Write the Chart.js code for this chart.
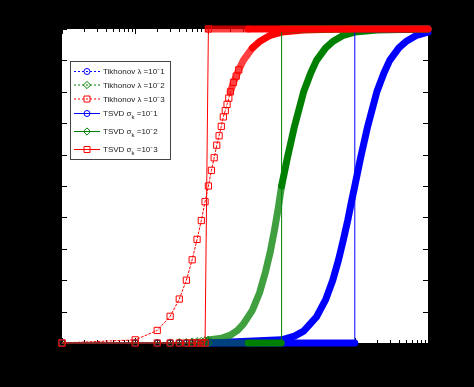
<!DOCTYPE html>
<html>
<head>
<meta charset="utf-8">
<script src="https://cdn.jsdelivr.net/npm/chart.js@4.4.0/dist/chart.umd.min.js"></script>
<style>
  html, body { margin: 0; padding: 0; background: #000; }
  #wrap { width: 474px; height: 387px; }
</style>
</head>
<body>
<div id="wrap"><canvas id="c" width="474" height="387"></canvas></div>
<script>
// 横軸 σ と各フィルタ係数
const tikh1Sigma = [1e-5, 1e-4, 2e-4, 3e-4, 4e-4, 5e-4, 6e-4, 7e-4, 8e-4, 9e-4, 1e-3,
  1e-2, 1.5e-2, 2e-2, 3e-2, 4e-2, 5e-2, 6e-2, 7e-2, 8e-2, 9e-2,
  0.1, 0.12, 0.15, 0.2, 0.25, 0.3, 0.4, 0.5, 0.7, 1];
const tikh1Vals = [0, 0, 0, 0, 0, 0, 0, 0, 0, 0, 0,
  0.01, 0.022, 0.038, 0.083, 0.138, 0.2, 0.265, 0.33, 0.39, 0.45,
  0.5, 0.59, 0.69, 0.8, 0.86, 0.9, 0.94, 0.96, 0.98, 0.99];

const tikh2Sigma = [1e-5, 1e-4, 2e-4, 3e-4, 4e-4, 5e-4, 6e-4, 7e-4, 8e-4, 9e-4, 1e-3,
  1.5e-3, 2e-3, 2.5e-3, 3e-3, 4e-3, 5e-3, 6e-3, 7e-3, 8e-3, 9e-3,
  1e-2, 1.2e-2, 1.5e-2, 2e-2, 2.5e-2, 3e-2, 4e-2, 5e-2, 7e-2, 0.1, 0.2, 1];
const tikh2Vals = [0, 0, 0, 0.001, 0.002, 0.002, 0.004, 0.005, 0.006, 0.008, 0.01,
  0.015, 0.025, 0.04, 0.06, 0.105, 0.16, 0.225, 0.29, 0.36, 0.43,
  0.5, 0.59, 0.69, 0.8, 0.86, 0.9, 0.94, 0.96, 0.98, 0.99, 0.997, 1];

const tikh3Sigma = [1e-5, 1e-4, 2e-4, 3e-4, 4e-4, 5e-4, 6e-4, 7e-4, 8e-4, 9e-4, 1e-3,
  1.1e-3, 1.2e-3, 1.3e-3, 1.4e-3, 1.5e-3, 1.6e-3, 1.7e-3, 1.8e-3, 1.9e-3, 2e-3,
  2.2e-3, 2.4e-3, 2.6e-3, 3e-3, 4e-3, 5e-3, 7e-3,
  1e-2, 2e-2, 5e-2, 0.1, 1];
const tikh3Vals = [0, 0.01, 0.04, 0.085, 0.14, 0.2, 0.265, 0.33, 0.39, 0.45, 0.5,
  0.55, 0.59, 0.63, 0.66, 0.69, 0.72, 0.74, 0.76, 0.78, 0.8,
  0.83, 0.85, 0.87, 0.9, 0.94, 0.96, 0.98,
  0.99, 0.997, 0.999, 1, 1];

const tsvd1Sigma = [1e-5, 1e-4, 2e-4, 3e-4, 4e-4, 5e-4, 6e-4, 7e-4, 8e-4, 9e-4, 1e-3, 0.0999, 0.1, 1];
const tsvd1Vals = [0, 0, 0, 0, 0, 0, 0, 0, 0, 0, 0, 0, 1, 1];

const tsvd2Sigma = [1e-5, 1e-4, 2e-4, 3e-4, 4e-4, 5e-4, 6e-4, 7e-4, 8e-4, 9e-4, 1e-3, 3.5e-3, 0.0099, 0.01, 1];
const tsvd2Vals = [0, 0, 0, 0, 0, 0, 0, 0, 0, 0, 0, 0, 0, 1, 1];

const tsvd3Sigma = [1e-5, 1e-4, 2e-4, 3e-4, 4e-4, 5e-4, 6e-4, 7e-4, 8e-4, 9e-4, 1e-3, 3.5e-3, 1];
const tsvd3Vals = [0, 0, 0, 0, 0, 0, 0, 0, 0, 0, 1, 1, 1];

const xDecades = [1e-5, 1e-4, 1e-3, 1e-2, 1e-1, 1];
const yTicks = [0, 0.1, 0.2, 0.3, 0.4, 0.5, 0.6, 0.7, 0.8, 0.9, 1];
const legendNames = ['Tikhonov', 'Tikhonov', 'Tikhonov', 'TSVD', 'TSVD', 'TSVD'];
const legendExps = ['10⁻1', '10⁻2', '10⁻3', '10⁻1', '10⁻2', '10⁻3'];

const BLUE = '#0000ff', GREEN = '#008000', RED = '#ff0000';

// データセット生成（マーカーは疎な部分だけ、密な部分は太線で表現）
const makeSet = (sig, vals, o) => {
  const isBand = c => sig[c.p0DataIndex] >= o.bandFrom * 0.999 && Math.abs(c.p1.x - c.p0.x) > 1.5;
  return {
    data: sig.map((s, i) => ({ x: s, y: vals[i] })),
    borderColor: o.color,
    borderWidth: 1,
    borderDash: o.dash || [],
    borderCapStyle: 'round',
    borderJoinStyle: 'round',
    pointStyle: o.marker,
    pointRadius: c => sig[c.dataIndex] <= o.markTo ? o.r : 0,
    pointHoverRadius: 0,
    pointBorderWidth: 1,
    pointBorderColor: o.color,
    pointBackgroundColor: 'rgba(0,0,0,0)',
    tension: 0,
    clip: false,
    order: o.order,
    segment: {
      borderWidth: c => isBand(c) ? 7 : 1,
      borderDash: c => isBand(c) ? [] : (o.dash || []),
      borderColor: c => (isBand(c) && sig[c.p0DataIndex] < (o.softTo || 0)) ? o.soft : o.color
    }
  };
};

const datasets = [
  makeSet(tikh1Sigma, tikh1Vals, { color: BLUE, dash: [2, 2], marker: 'circle', r: 3.2, markTo: 1.05e-3, bandFrom: 1e-3, order: 6 }),
  makeSet(tikh2Sigma, tikh2Vals, { color: GREEN, dash: [2, 2], marker: 'rectRot', r: 3.8, markTo: 1.05e-3, bandFrom: 1e-3, softTo: 1e-2, soft: 'rgba(0,128,0,0.75)', order: 5 }),
  makeSet(tikh3Sigma, tikh3Vals, { color: RED, dash: [2, 2], marker: 'rect', r: 4.4, markTo: 2.65e-3, bandFrom: 2e-3, softTo: 4e-3, soft: 'rgba(255,0,0,0.75)', order: 4 }),
  makeSet(tsvd1Sigma, tsvd1Vals, { color: BLUE, marker: 'circle', r: 3.2, markTo: 1.05e-3, bandFrom: 1e-3, order: 3 }),
  makeSet(tsvd2Sigma, tsvd2Vals, { color: GREEN, marker: 'rectRot', r: 3.8, markTo: 1.05e-3, bandFrom: 1e-3, softTo: 3.5e-3, soft: 'rgba(0,128,0,0.5)', order: 2 }),
  makeSet(tsvd3Sigma, tsvd3Vals, { color: RED, marker: 'rect', r: 4.4, markTo: 1.05e-3, bandFrom: 1e-3, softTo: 3.5e-3, soft: 'rgba(255,0,0,0.75)', order: 1 })
];

// 背景（黒）とプロット領域（白）
const bgPlugin = {
  id: 'bg',
  beforeDraw(chart) {
    const { ctx, chartArea: a } = chart;
    ctx.save();
    ctx.fillStyle = '#000';
    ctx.fillRect(0, 0, chart.width, chart.height);
    ctx.fillStyle = '#fff';
    ctx.fillRect(a.left, a.top, a.right - a.left, a.bottom - a.top);
    ctx.restore();
  }
};

// 内向きの目盛り（上下左右）
const tickPlugin = {
  id: 'inTicks',
  beforeDatasetsDraw(chart) {
    const { ctx, chartArea: a, scales } = chart;
    ctx.save();
    ctx.strokeStyle = '#000';
    ctx.lineWidth = 1;
    ctx.beginPath();
    xDecades.forEach(d => {
      for (let m = 1; m <= 9; m++) {
        const v = d * m;
        if (v > 1.0001) break;
        const x = Math.round(scales.x.getPixelForValue(v)) + 0.5;
        const len = m === 1 ? 5 : 3;
        ctx.moveTo(x, a.bottom); ctx.lineTo(x, a.bottom - len);
        ctx.moveTo(x, a.top); ctx.lineTo(x, a.top + len);
      }
    });
    yTicks.forEach(v => {
      const y = Math.round(scales.y.getPixelForValue(v)) + 0.5;
      ctx.moveTo(a.left, y); ctx.lineTo(a.left + 5, y);
      ctx.moveTo(a.right, y); ctx.lineTo(a.right - 5, y);
    });
    ctx.stroke();
    ctx.restore();
  }
};

const drawMarker = (ctx, style, x, y, color) => {
  ctx.save();
  ctx.setLineDash([]);
  ctx.strokeStyle = color;
  ctx.lineWidth = 1;
  ctx.beginPath();
  if (style === 'circle') ctx.arc(x, y, 3, 0, Math.PI * 2);
  else if (style === 'rect') ctx.rect(x - 3, y - 3, 6, 6);
  else { ctx.moveTo(x, y - 3.6); ctx.lineTo(x + 3.6, y); ctx.lineTo(x, y + 3.6); ctx.lineTo(x - 3.6, y); ctx.closePath(); }
  ctx.stroke();
  ctx.restore();
};

// 凡例（MATLAB風：線の中央にマーカー）
const legendPlugin = {
  id: 'boxLegend',
  afterDatasetsDraw(chart) {
    const ctx = chart.ctx;
    const rows = [71, 84.5, 98.5, 113, 131, 149];
    const colors = [BLUE, GREEN, RED, BLUE, GREEN, RED];
    const markers = ['circle', 'rectRot', 'rect', 'circle', 'rectRot', 'rect'];
    const big = '8px "Liberation Sans", Arial, sans-serif';
    const small = '6px "Liberation Sans", Arial, sans-serif';
    ctx.save();
    ctx.fillStyle = '#fff';
    ctx.fillRect(70, 61, 101, 99);
    ctx.strokeStyle = '#444';
    ctx.lineWidth = 1;
    ctx.strokeRect(70.5, 61.5, 100, 98);
    rows.forEach((y, i) => {
      ctx.strokeStyle = colors[i];
      ctx.setLineDash(i < 3 ? [2, 2] : []);
      ctx.beginPath();
      ctx.moveTo(74, y + 0.5); ctx.lineTo(100, y + 0.5);
      ctx.stroke();
      drawMarker(ctx, markers[i], 87, y + 0.5, colors[i]);
      ctx.fillStyle = '#1a1a1a';
      ctx.textBaseline = 'middle';
      ctx.font = big;
      let x = 103;
      if (i < 3) {
        ctx.fillText(legendNames[i] + ' λ =' + legendExps[i], x, y + 1);
      } else {
        const head = legendNames[i] + ' σ';
        ctx.fillText(head, x, y + 1);
        x += ctx.measureText(head).width;
        ctx.font = small;
        ctx.fillText('k', x, y + 4);
        x += ctx.measureText('k').width;
        ctx.font = big;
        ctx.fillText(' =' + legendExps[i], x, y + 1);
      }
    });
    ctx.restore();
  }
};

const supers = { '-': '⁻', '0': '⁰', '1': '¹', '2': '²', '3': '³', '4': '⁴', '5': '⁵' };

new Chart(document.getElementById('c'), {
  type: 'line',
  data: { datasets },
  options: {
    responsive: false,
    animation: false,
    events: [],
    layout: { padding: { top: 29, right: 46, left: 0, bottom: 0 } },
    plugins: { legend: { display: false }, tooltip: { enabled: false } },
    scales: {
      x: {
        type: 'logarithmic',
        min: 1e-5,
        max: 1,
        grid: { display: false },
        border: { display: false },
        afterFit: s => { s.height = 44; },
        ticks: {
          color: '#000',
          autoSkip: false,
          maxRotation: 0,
          font: { size: 9, family: '"Liberation Sans", Arial' },
          callback: v => {
            const l = Math.log10(v);
            if (Math.abs(l - Math.round(l)) > 1e-6) return '';
            return '10' + String(Math.round(l)).split('').map(ch => supers[ch]).join('');
          }
        }
      },
      y: {
        min: 0,
        max: 1,
        grid: { display: false },
        border: { display: false },
        afterFit: s => { s.width = 62; },
        ticks: {
          color: '#000',
          stepSize: 0.1,
          font: { size: 9, family: '"Liberation Sans", Arial' }
        }
      }
    }
  },
  plugins: [bgPlugin, tickPlugin, legendPlugin]
});
</script>
</body>
</html>
